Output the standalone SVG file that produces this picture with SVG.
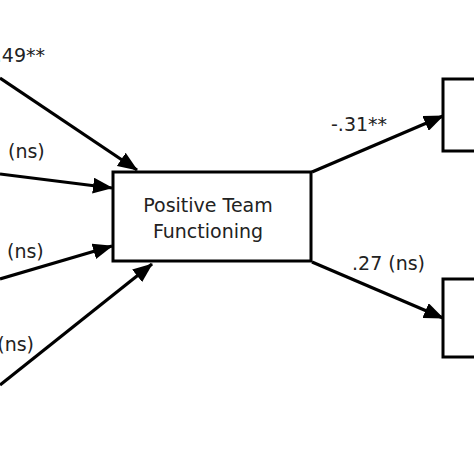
<svg xmlns="http://www.w3.org/2000/svg" width="474" height="474" viewBox="0 0 474 474">
<style>
.box{fill:#fff;stroke:#000;stroke-width:3}
.edge{stroke:#000;stroke-width:3.2;fill:none;marker-end:url(#ah)}
text{font-family:"DejaVu Sans",Verdana,sans-serif;font-size:19px;fill:#222}
</style>
<defs>
<marker id="ah" markerUnits="userSpaceOnUse" markerWidth="20" markerHeight="16" refX="19" refY="8" orient="auto">
<path d="M0,0 L20,8 L0,16 z" fill="#000"/>
</marker>
</defs>
<rect width="474" height="474" fill="#fff"/>
<g id="connectors">
<line class="edge" x1="0" y1="78" x2="137" y2="170"/>
<line class="edge" x1="0" y1="174" x2="112" y2="188"/>
<line class="edge" x1="0" y1="279" x2="112" y2="246"/>
<line class="edge" x1="0" y1="385" x2="152" y2="264"/>
<line class="edge" x1="312" y1="172" x2="443" y2="116"/>
<line class="edge" x1="312" y1="262" x2="443" y2="318"/>
<text x="45" y="62" text-anchor="end">.49**</text>
<text x="8" y="158">(ns)</text>
<text x="7" y="258">(ns)</text>
<text x="34" y="351" text-anchor="end">(ns)</text>
<text x="331" y="131">-.31**</text>
<text x="352" y="270">.27 (ns)</text>
</g>
<g id="positive-team-functioning">
<rect class="box" x="113" y="172" width="198" height="89"/>
<text x="208" y="212" text-anchor="middle">Positive Team</text>
<text x="208" y="238" text-anchor="middle">Functioning</text>
</g>
<g id="outcome-top">
<rect class="box" x="443" y="79" width="60" height="72"/>
</g>
<g id="outcome-bottom">
<rect class="box" x="443" y="279" width="60" height="78"/>
</g>
</svg>
